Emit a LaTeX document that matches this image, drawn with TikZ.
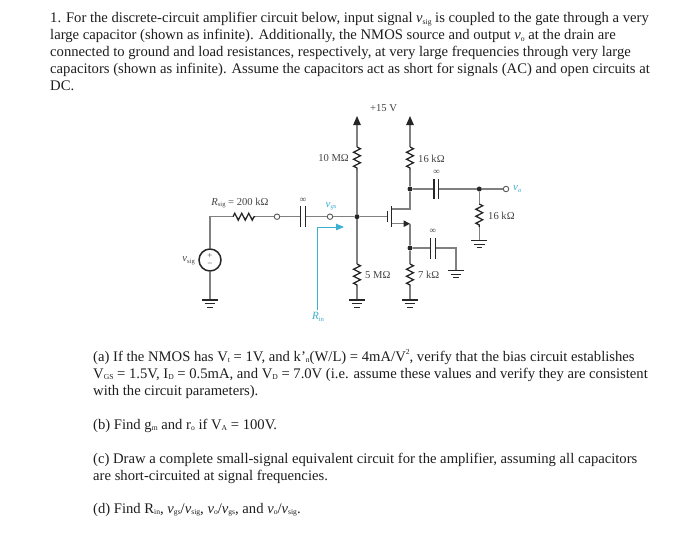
\documentclass[tikz,border=0pt]{standalone}
\usepackage{fontspec}
\setmainfont{Liberation Serif}
\usetikzlibrary{arrows.meta,decorations.pathmorphing}
\definecolor{txt}{HTML}{1E1E1E}
\definecolor{lab}{HTML}{444444}
\definecolor{wirec}{HTML}{808080}
\definecolor{blu}{HTML}{3CB0D2}
\newcommand{\sbx}[1]{\raisebox{-0.25ex}{\fontsize{7.6}{8}\selectfont #1}}
\newcommand{\spx}[1]{\raisebox{0.9ex}{\fontsize{7.6}{8}\selectfont #1}}
\newcommand{\sbl}[1]{\raisebox{-0.3ex}{\fontsize{6.6}{7}\selectfont #1}}
\tikzset{
  x=1pt,y=-1pt,
  para/.style={anchor=base west,inner sep=0pt,text=txt,font=\fontsize{14.65}{17}\selectfont},
  lbl/.style={inner sep=0pt,text=lab,font=\fontsize{10.6}{12}\selectfont},
  blbl/.style={inner sep=0pt,text=blu,font=\fontsize{11}{12}\selectfont\itshape},
  wire/.style={draw=wirec,line width=1.1pt},
  res/.style={draw=black!85,line width=1.3pt,decorate,decoration={zigzag,segment length=7,amplitude=3.4}},
  plate/.style={draw=black!85,line width=1.4pt},
  rail/.style={wire,-{Triangle[length=9pt,width=7.5pt,color=black!85,fill=black!85]}},
  sig/.style={draw=blu,line width=1pt},
  sigarrow/.style={sig,-{Triangle[length=8pt,width=6.5pt,color=blu,fill=blu]}},
  junction/.style={circle,fill=black!85,inner sep=0pt,minimum size=5pt},
  openterm/.style={circle,draw=black!65,fill=white,line width=0.9pt,inner sep=0pt,minimum size=5.5pt},
  source/.style={circle,draw=black!85,fill=white,line width=1.5pt,inner sep=0pt,minimum size=22pt},
  ground/.pic={
    \draw[plate,line width=1.1pt] (-8,0) -- (8,0) (-5.2,3.6) -- (5.2,3.6) (-2.6,7.2) -- (2.6,7.2);
  }
}
\begin{document}
\begin{tikzpicture}
\useasboundingbox (0,0) rectangle (700,539);
\fill[white] (0,0) rectangle (700,539);

% question text
\node[para] (l1) at (50,22.5) {1. For the discrete-circuit amplifier circuit below, input signal \textit{v}\sbx{sig} is coupled to the gate through a very};
\node[para] (l2) at (50,39.5) {large capacitor (shown as infinite). Additionally, the NMOS source and output \textit{v}\sbx{o} at the drain are};
\node[para] (l3) at (50,56.5) {connected to ground and load resistances, respectively, at very large frequencies through very large};
\node[para] (l4) at (50,73.5) {capacitors (shown as infinite). Assume the capacitors act as short for signals (AC) and open circuits at};
\node[para] (l5) at (50,90.5) {DC.};

\node[para] (a1) at (93,361) {(a) If the NMOS has V\sbx{t} = 1V, and k’\sbx{n}(W/L) = 4mA/V\spx{2}, verify that the bias circuit establishes};
\node[para] (a2) at (93,378) {V\sbx{GS} = 1.5V, I\sbx{D} = 0.5mA, and V\sbx{D} = 7.0V (i.e. assume these values and verify they are consistent};
\node[para] (a3) at (93,395) {with the circuit parameters).};
\node[para] (b1) at (93,429) {(b) Find g\sbx{m} and r\sbx{o} if V\sbx{A} = 100V.};
\node[para] (c1) at (93,463) {(c) Draw a complete small-signal equivalent circuit for the amplifier, assuming all capacitors};
\node[para] (c2) at (93,480) {are short-circuited at signal frequencies.};
\node[para] (d1) at (93,513) {(d) Find R\sbx{in}, \textit{v}\sbx{gs}/\textit{v}\sbx{sig}, \textit{v}\sbx{o}/\textit{v}\sbx{gs}, and \textit{v}\sbx{o}/\textit{v}\sbx{sig}.};

% junctions and terminals
\node[junction] (G) at (357,216.7) {};
\node[junction] (D) at (410,189) {};
\node[junction] (O) at (479.3,189) {};
\node[junction] (S) at (410,248) {};
\node[openterm] (t1) at (277,216.7) {};
\node[openterm] (t2) at (330,216.7) {};
\node[openterm] (t3) at (506,189) {};
\node[source] (src) at (210,260) {};
\node[inner sep=0pt,font=\fontsize{9}{9}\selectfont,text=lab] (plus) at (210,255.5) {+};
\node[inner sep=0pt,font=\fontsize{9}{9}\selectfont,text=lab] (minus) at (210,264.5) {−};

% named points
\coordinate (corner) at (210,216.7);
\coordinate (r1a) at (233,216.7); \coordinate (r1b) at (255,216.7);
\coordinate (c1a) at (300.7,216.7); \coordinate (c1b) at (305.3,216.7);
\coordinate (vdd1) at (357,116); \coordinate (vdd2) at (410,116);
\coordinate (r2a) at (357,147); \coordinate (r2b) at (357,170);
\coordinate (r3a) at (410,147); \coordinate (r3b) at (410,170);
\coordinate (c2a) at (434,189); \coordinate (c2b) at (438.7,189);
\coordinate (r4a) at (479.3,204); \coordinate (r4b) at (479.3,227);
\coordinate (r5a) at (357,264); \coordinate (r5b) at (357,286);
\coordinate (r6a) at (410,264); \coordinate (r6b) at (410,286);
\coordinate (c3a) at (430.7,248); \coordinate (c3b) at (435.3,248);
\coordinate (g0) at (210,300); \coordinate (g1) at (357,300);
\coordinate (g2) at (410,300); \coordinate (g3) at (456,270.5);
\coordinate (g4) at (479.3,240.7); \coordinate (g3top) at (456,248);
\coordinate (gp) at (387.7,216.7);
\coordinate (dr) at (391.7,209); \coordinate (drc) at (410,209);
\coordinate (sr) at (391.7,223.7); \coordinate (src2) at (410,223.7);

% wires
\draw[wire] (src) -- (corner) -- (r1a);
\draw[wire] (r1b) -- (t1) -- (c1a);
\draw[wire] (c1b) -- (t2) -- (G) -- (gp);
\draw[wire] (src) -- (g0);
\draw[rail] (r2a) -- (vdd1);
\draw[rail] (r3a) -- (vdd2);
\draw[wire] (r2b) -- (G) -- (r5a);
\draw[wire] (r5b) -- (g1);
\draw[wire] (r3b) -- (D) -- (drc) -- (dr);
\draw[wire] (D) -- (c2a);
\draw[wire] (c2b) -- (O) -- (t3);
\draw[wire] (O) -- (r4a);
\draw[wire] (r4b) -- (g4);
\draw[wire] (src2) -- (S) -- (r6a);
\draw[wire] (r6b) -- (g2);
\draw[wire] (S) -- (c3a);
\draw[wire] (c3b) -- (g3top) -- (g3);

% MOSFET
\draw[plate] (387.7,210.5) -- (387.7,222);
\draw[plate] (391.7,206) -- (391.7,227);
\draw[wire,-{Triangle[length=6.5pt,width=6.5pt,color=black!85,fill=black!85]}] (sr) -- (src2);

% resistors
\draw[res] (r1a) -- (r1b);
\draw[res] (r2a) -- (r2b);
\draw[res] (r3a) -- (r3b);
\draw[res] (r4a) -- (r4b);
\draw[res] (r5a) -- (r5b);
\draw[res] (r6a) -- (r6b);

% capacitors
\draw[plate] (300.7,206) -- (300.7,227) (305.3,206) -- (305.3,227);
\draw[plate] (434,179) -- (434,199) (438.7,179) -- (438.7,199);
\draw[plate] (430.7,238) -- (430.7,259) (435.3,238) -- (435.3,259);

% grounds
\pic at (g0) {ground};
\pic at (g1) {ground};
\pic at (g2) {ground};
\pic at (g3) {ground};
\pic at (g4) {ground};

% input resistance arrow
\coordinate (b0) at (317,310); \coordinate (b1) at (317,227); \coordinate (b2) at (344,227);
\draw[sigarrow] (b0) -- (b1) -- (b2);

% circuit labels
\node[lbl] (vdd) at (383.5,108.5) {+15 V};
\node[lbl,anchor=east] (lr2) at (349,158.5) {10 MΩ};
\node[lbl,anchor=west] (lr3) at (418,158.5) {16 kΩ};
\node[lbl,anchor=west] (lr4) at (488,215.5) {16 kΩ};
\node[lbl,anchor=west] (lr5) at (365,275) {5 MΩ};
\node[lbl,anchor=west] (lr6) at (418,275) {7 kΩ};
\node[lbl] (lr1) at (240,203) {\textit{R}\sbl{sig} = 200 kΩ};
\node[lbl,font=\fontsize{9}{9}\selectfont] (i1) at (303,200) {∞};
\node[lbl,font=\fontsize{9}{9}\selectfont] (i2) at (436.5,172.5) {∞};
\node[lbl,font=\fontsize{9}{9}\selectfont] (i3) at (432.7,231.7) {∞};
\node[lbl,anchor=east,font=\fontsize{10.6}{12}\selectfont\itshape] (lsig) at (195,261) {v\sbl{\upshape sig}};
\node[blbl] (lgs) at (331,206) {v\sbl{gs}};
\node[blbl,anchor=west] (lo) at (513,189) {v\sbl{o}};
\node[blbl] (lin) at (318,317) {R\sbl{\upshape in}};
\end{tikzpicture}
\end{document}
